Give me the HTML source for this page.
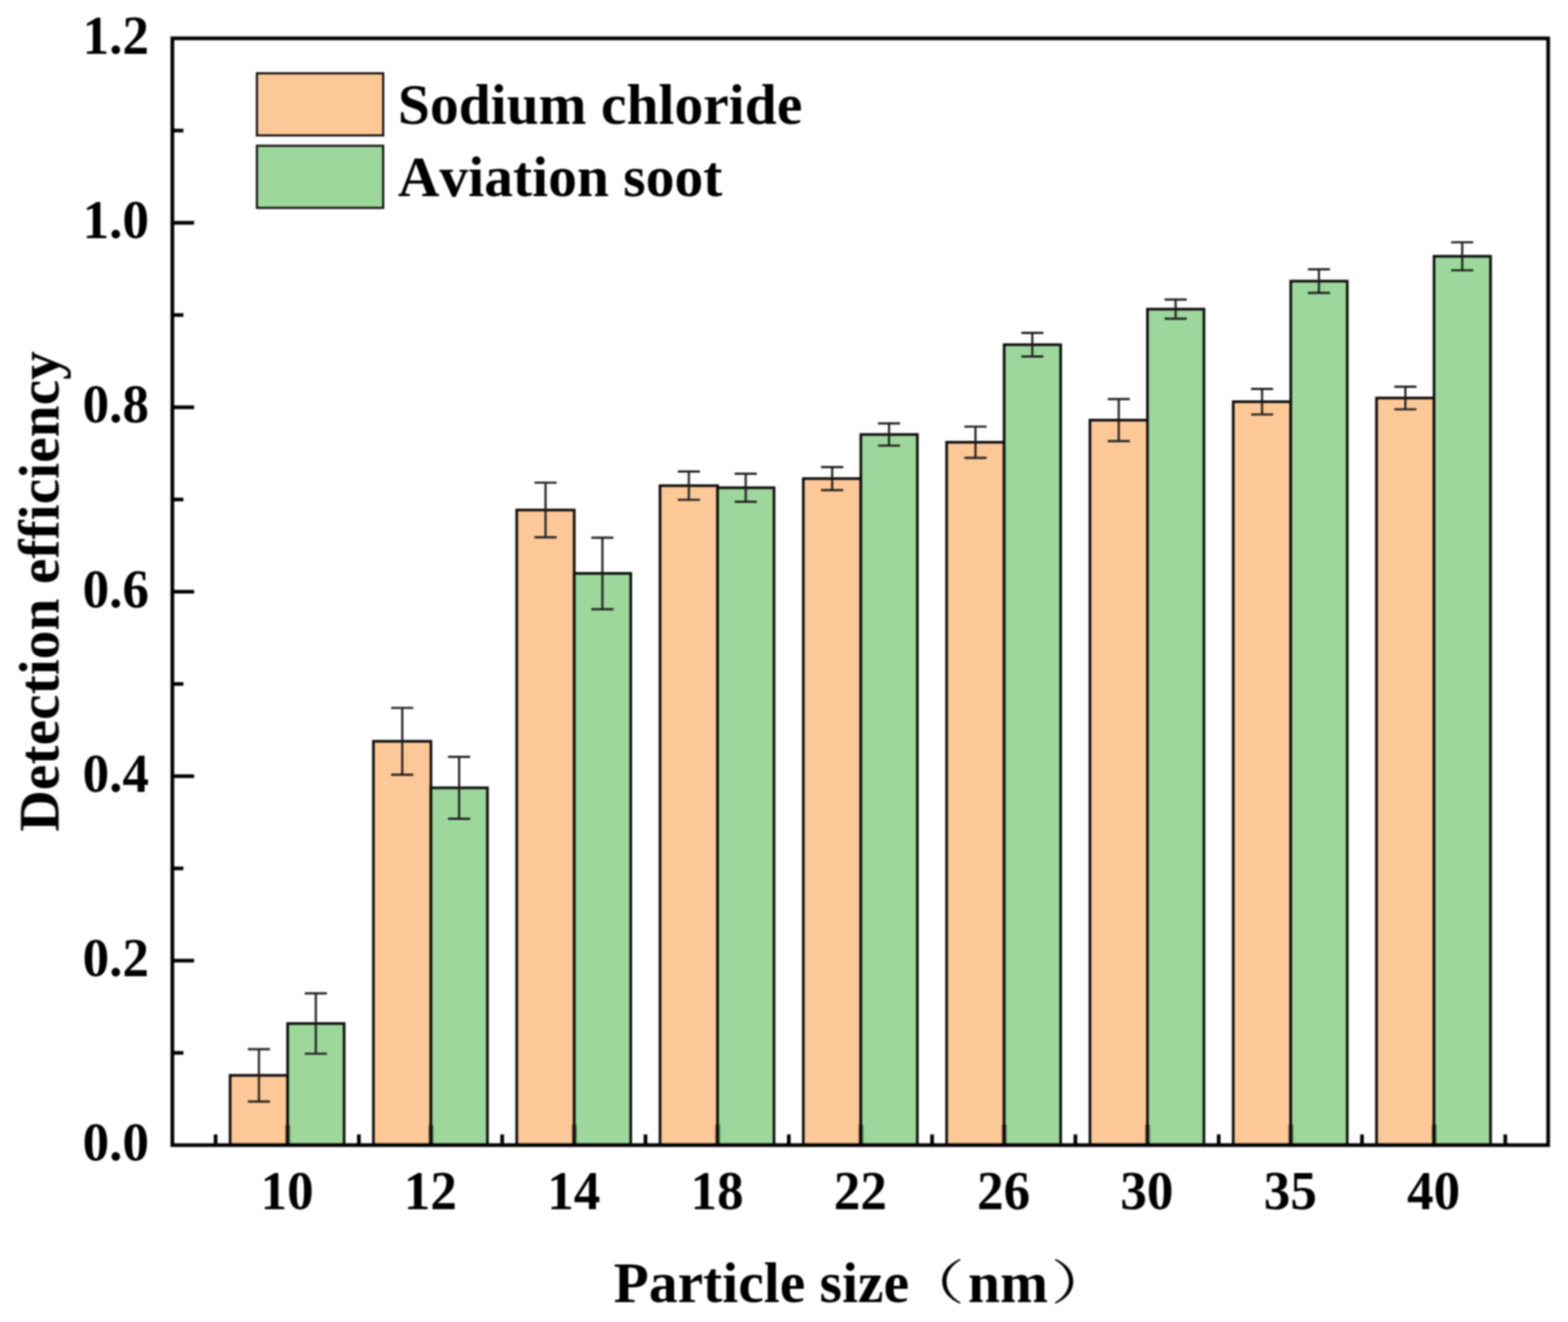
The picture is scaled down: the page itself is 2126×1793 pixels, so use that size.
<!DOCTYPE html>
<html lang="en"><head><meta charset="utf-8"><title>Detection efficiency vs particle size</title>
<style>
html,body{margin:0;padding:0;background:#fff;}
body{width:2126px;height:1793px;overflow:hidden;}
svg{display:block;}
#chart{filter:blur(0.8px);}
text{font-family:"Liberation Serif","Noto Serif CJK SC",serif;font-weight:bold;fill:#000;font-kerning:none;font-variant-ligatures:none;}
.tick{font-size:72px;}
.ttl{font-size:78px;}
.leg{font-size:78px;}
.cjk{font-family:"Noto Serif CJK SC","Liberation Serif",serif;font-weight:normal;}
</style></head><body>
<svg width="2126" height="1793" viewBox="0 0 2126 1793">
<rect x="0" y="0" width="2126" height="1793" fill="#ffffff"/>
<g id="chart">
<g stroke="#000" stroke-width="5" fill="none">
<line x1="292.30" y1="1553.10" x2="292.30" y2="1538.60"/>
<line x1="486.60" y1="1553.10" x2="486.60" y2="1538.60"/>
<line x1="680.90" y1="1553.10" x2="680.90" y2="1538.60"/>
<line x1="875.20" y1="1553.10" x2="875.20" y2="1538.60"/>
<line x1="1069.50" y1="1553.10" x2="1069.50" y2="1538.60"/>
<line x1="1263.80" y1="1553.10" x2="1263.80" y2="1538.60"/>
<line x1="1458.10" y1="1553.10" x2="1458.10" y2="1538.60"/>
<line x1="1652.40" y1="1553.10" x2="1652.40" y2="1538.60"/>
<line x1="1846.70" y1="1553.10" x2="1846.70" y2="1538.60"/>
<line x1="2041.00" y1="1553.10" x2="2041.00" y2="1538.60"/>
<line x1="233.70" y1="1428.01" x2="248.70" y2="1428.01"/>
<line x1="233.70" y1="1302.92" x2="263.20" y2="1302.92"/>
<line x1="233.70" y1="1177.82" x2="248.70" y2="1177.82"/>
<line x1="233.70" y1="1052.73" x2="263.20" y2="1052.73"/>
<line x1="233.70" y1="927.64" x2="248.70" y2="927.64"/>
<line x1="233.70" y1="802.55" x2="263.20" y2="802.55"/>
<line x1="233.70" y1="677.46" x2="248.70" y2="677.46"/>
<line x1="233.70" y1="552.37" x2="263.20" y2="552.37"/>
<line x1="233.70" y1="427.27" x2="248.70" y2="427.27"/>
<line x1="233.70" y1="302.18" x2="263.20" y2="302.18"/>
<line x1="233.70" y1="177.09" x2="248.70" y2="177.09"/>
</g>
<g stroke="#0c0c0c" stroke-width="3.60" stroke-linejoin="miter">
<rect x="312.00" y="1458.50" width="78.00" height="94.60" fill="#fcc897"/>
<rect x="390.00" y="1388.20" width="76.60" height="164.90" fill="#9dd79b"/>
<rect x="506.30" y="1005.40" width="78.00" height="547.70" fill="#fcc897"/>
<rect x="584.30" y="1068.50" width="76.60" height="484.60" fill="#9dd79b"/>
<rect x="700.60" y="691.70" width="78.00" height="861.40" fill="#fcc897"/>
<rect x="778.60" y="777.70" width="76.60" height="775.40" fill="#9dd79b"/>
<rect x="894.90" y="658.70" width="78.00" height="894.40" fill="#fcc897"/>
<rect x="972.90" y="661.50" width="76.60" height="891.60" fill="#9dd79b"/>
<rect x="1089.20" y="649.10" width="78.00" height="904.00" fill="#fcc897"/>
<rect x="1167.20" y="589.30" width="76.60" height="963.80" fill="#9dd79b"/>
<rect x="1283.50" y="599.80" width="78.00" height="953.30" fill="#fcc897"/>
<rect x="1361.50" y="467.50" width="76.60" height="1085.60" fill="#9dd79b"/>
<rect x="1477.80" y="569.80" width="78.00" height="983.30" fill="#fcc897"/>
<rect x="1555.80" y="419.30" width="76.60" height="1133.80" fill="#9dd79b"/>
<rect x="1672.10" y="544.80" width="78.00" height="1008.30" fill="#fcc897"/>
<rect x="1750.10" y="381.30" width="76.60" height="1171.80" fill="#9dd79b"/>
<rect x="1866.40" y="539.80" width="78.00" height="1013.30" fill="#fcc897"/>
<rect x="1944.40" y="347.60" width="76.60" height="1205.50" fill="#9dd79b"/>
</g>
<g stroke="#000" stroke-opacity="0.42" stroke-width="7" fill="none">
<line x1="390.10" y1="1553.10" x2="390.10" y2="1525.60"/>
<line x1="584.40" y1="1553.10" x2="584.40" y2="1525.60"/>
<line x1="778.70" y1="1553.10" x2="778.70" y2="1525.60"/>
<line x1="973.00" y1="1553.10" x2="973.00" y2="1525.60"/>
<line x1="1167.30" y1="1553.10" x2="1167.30" y2="1525.60"/>
<line x1="1361.60" y1="1553.10" x2="1361.60" y2="1525.60"/>
<line x1="1555.90" y1="1553.10" x2="1555.90" y2="1525.60"/>
<line x1="1750.20" y1="1553.10" x2="1750.20" y2="1525.60"/>
<line x1="1944.50" y1="1553.10" x2="1944.50" y2="1525.60"/>
</g>
<g stroke="#1e1e1e" stroke-width="2.90" fill="none">
<path d="M351.10 1423.00V1494.00M336.10 1423.00H366.10M336.10 1494.00H366.10"/>
<path d="M428.20 1347.30V1429.10M413.20 1347.30H443.20M413.20 1429.10H443.20"/>
<path d="M545.40 960.10V1050.70M530.40 960.10H560.40M530.40 1050.70H560.40"/>
<path d="M622.50 1026.50V1110.50M607.50 1026.50H637.50M607.50 1110.50H637.50"/>
<path d="M739.70 654.60V728.80M724.70 654.60H754.70M724.70 728.80H754.70"/>
<path d="M816.80 729.20V826.20M801.80 729.20H831.80M801.80 826.20H831.80"/>
<path d="M934.00 639.50V677.90M919.00 639.50H949.00M919.00 677.90H949.00"/>
<path d="M1011.10 642.50V680.50M996.10 642.50H1026.10M996.10 680.50H1026.10"/>
<path d="M1128.30 633.50V664.70M1113.30 633.50H1143.30M1113.30 664.70H1143.30"/>
<path d="M1205.40 574.20V604.40M1190.40 574.20H1220.40M1190.40 604.40H1220.40"/>
<path d="M1322.60 578.60V621.00M1307.60 578.60H1337.60M1307.60 621.00H1337.60"/>
<path d="M1399.70 451.50V483.50M1384.70 451.50H1414.70M1384.70 483.50H1414.70"/>
<path d="M1516.90 541.30V598.30M1501.90 541.30H1531.90M1501.90 598.30H1531.90"/>
<path d="M1594.00 406.30V432.30M1579.00 406.30H1609.00M1579.00 432.30H1609.00"/>
<path d="M1711.20 527.50V562.10M1696.20 527.50H1726.20M1696.20 562.10H1726.20"/>
<path d="M1788.30 365.30V397.30M1773.30 365.30H1803.30M1773.30 397.30H1803.30"/>
<path d="M1905.50 524.50V555.10M1890.50 524.50H1920.50M1890.50 555.10H1920.50"/>
<path d="M1982.60 328.60V366.60M1967.60 328.60H1997.60M1967.60 366.60H1997.60"/>
</g>
<rect x="233.70" y="52.00" width="1865.40" height="1501.10" fill="none" stroke="#000" stroke-width="5.00"/>
<rect x="348.3" y="99.4" width="171.3" height="84.3" fill="#fcc897" stroke="#0c0c0c" stroke-width="2.8"/>
<rect x="348.3" y="197.7" width="171.3" height="84.3" fill="#9dd79b" stroke="#0c0c0c" stroke-width="2.8"/>
<text class="leg" transform="translate(539.50 167.60) scale(1 1.000)">Sodium chloride</text>
<text class="leg" transform="translate(539.50 266.20) scale(1 1.000)">Aviation soot</text>
<text class="tick" text-anchor="end" transform="translate(202.00 1574.10) scale(1 1.030)">0.0</text>
<text class="tick" text-anchor="end" transform="translate(202.00 1323.92) scale(1 1.030)">0.2</text>
<text class="tick" text-anchor="end" transform="translate(202.00 1073.73) scale(1 1.030)">0.4</text>
<text class="tick" text-anchor="end" transform="translate(202.00 823.55) scale(1 1.030)">0.6</text>
<text class="tick" text-anchor="end" transform="translate(202.00 573.37) scale(1 1.030)">0.8</text>
<text class="tick" text-anchor="end" transform="translate(202.00 323.18) scale(1 1.030)">1.0</text>
<text class="tick" text-anchor="end" transform="translate(202.00 73.00) scale(1 1.030)">1.2</text>
<text class="tick" text-anchor="middle" transform="translate(389.30 1640.10) scale(1 1.030)">10</text>
<text class="tick" text-anchor="middle" transform="translate(583.60 1640.10) scale(1 1.030)">12</text>
<text class="tick" text-anchor="middle" transform="translate(777.90 1640.10) scale(1 1.030)">14</text>
<text class="tick" text-anchor="middle" transform="translate(972.20 1640.10) scale(1 1.030)">18</text>
<text class="tick" text-anchor="middle" transform="translate(1166.50 1640.10) scale(1 1.030)">22</text>
<text class="tick" text-anchor="middle" transform="translate(1360.80 1640.10) scale(1 1.030)">26</text>
<text class="tick" text-anchor="middle" transform="translate(1555.10 1640.10) scale(1 1.030)">30</text>
<text class="tick" text-anchor="middle" transform="translate(1749.40 1640.10) scale(1 1.030)">35</text>
<text class="tick" text-anchor="middle" transform="translate(1943.70 1640.10) scale(1 1.030)">40</text>
<text class="ttl" transform="translate(0 1766.00) scale(1 1.000)"><tspan x="832.00">Particle size</tspan><tspan class="cjk" x="1220.30" dy="-3.80" font-size="64.7" textLength="88.0" lengthAdjust="spacingAndGlyphs">（</tspan><tspan x="1312.50" dy="3.80">nm</tspan><tspan class="cjk" x="1424.60" dy="-3.80" font-size="64.7" textLength="88.0" lengthAdjust="spacingAndGlyphs">）</tspan></text>
<text class="ttl" transform="translate(79.40 1128.00) rotate(-90) scale(1 1.000)">Detection efficiency</text>
</g>
</svg>
</body></html>
